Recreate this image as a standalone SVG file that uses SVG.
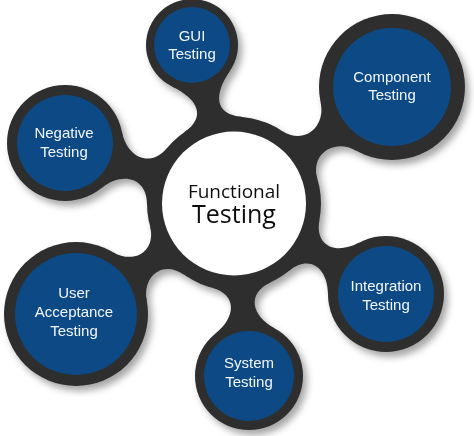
<svg xmlns="http://www.w3.org/2000/svg" width="474" height="436" viewBox="0 0 474 436">
  <defs>
    <filter id="sh" x="-10%" y="-10%" width="120%" height="120%">
      <feDropShadow dx="4" dy="5" stdDeviation="3.5" flood-color="#000" flood-opacity="0.35"/>
    </filter>
    <path id="neck46" d="M81.75,29.76 C91.35,3.36 110.79,8.71 129.10,30 L129.10,-30 C110.79,-8.71 91.35,-3.36 81.75,-29.76Z"/>
  </defs>
  <style>
    .ring { fill: #2f2e2d; }
    .navy { fill: #0c4a84; }
    .arm { fill: #2f2e2d; }
    .lbl { font-family: "Liberation Sans", Arial, sans-serif; font-size: 15px; fill: #f2f6fb; text-anchor: middle; }
    .ctr { font-family: "Open Sans", "Noto Sans", sans-serif; fill: #111; text-anchor: middle; }
  </style>
  <rect width="474" height="436" fill="#fff"/>
  <g filter="url(#sh)">
    <g id="connectors">
      <path class="arm" transform="translate(234,203.5) rotate(-104.84)" d="M81.75,29.76 C91.35,3.36 110.79,8.71 129.10,30 L129.10,-30 C110.79,-8.71 91.35,-3.36 81.75,-29.76Z"/>
      <path class="arm" transform="translate(234,203.5) rotate(-36.40)" d="M81.75,29.76 C90.56,5.55 119.18,6.52 129.76,30 L129.76,-30 C119.18,-6.52 90.56,-5.55 81.75,-29.76Z"/>
      <path class="arm" transform="translate(234,203.5) rotate(-160.30)" d="M81.75,29.76 C90.83,4.80 116.13,7.28 129.86,30 L129.86,-30 C116.13,-7.28 90.83,-4.80 81.75,-29.76Z"/>
      <path class="arm" transform="translate(234,203.5) rotate(145.04)" d="M81.75,29.76 C90.57,5.52 116.60,6.55 127.35,30 L127.35,-30 C116.60,-6.55 90.57,-5.52 81.75,-29.76Z"/>
      <path class="arm" transform="translate(234,203.5) rotate(85.03)" d="M81.75,29.76 C90.96,4.46 113.29,7.62 128.25,30 L128.25,-30 C113.29,-7.62 90.96,-4.46 81.75,-29.76Z"/>
      <path class="arm" transform="translate(234,203.5) rotate(30.77)" d="M81.75,29.76 C90.83,4.80 113.53,7.28 127.26,30 L127.26,-30 C113.53,-7.28 90.83,-4.80 81.75,-29.76Z"/>
    </g>
    <g id="functional-testing">
      <circle class="ring" cx="234" cy="203.5" r="87"/>
      <circle cx="234" cy="203.5" r="72" fill="#fff"/>
      <text class="ctr" x="234" y="198" font-size="19">Functional</text>
      <text class="ctr" x="234" y="223" font-size="25">Testing</text>
    </g>
    <g id="gui-testing">
      <circle class="ring" cx="192" cy="45" r="46"/>
      <circle class="navy" cx="192" cy="45" r="38"/>
      <text class="lbl" x="192" y="41">GUI</text>
      <text class="lbl" x="192" y="59">Testing</text>
    </g>
    <g id="component-testing">
      <circle class="ring" cx="392" cy="87" r="73"/>
      <circle class="navy" cx="392" cy="87" r="59"/>
      <text class="lbl" x="392" y="82">Component</text>
      <text class="lbl" x="392" y="100">Testing</text>
    </g>
    <g id="negative-testing">
      <circle class="ring" cx="65" cy="143" r="58"/>
      <circle class="navy" cx="65" cy="143" r="48"/>
      <text class="lbl" x="64" y="138">Negative</text>
      <text class="lbl" x="64" y="157">Testing</text>
    </g>
    <g id="user-acceptance-testing">
      <circle class="ring" cx="76" cy="314" r="72"/>
      <circle class="navy" cx="76" cy="314" r="61"/>
      <text class="lbl" x="74" y="298">User</text>
      <text class="lbl" x="74" y="317">Acceptance</text>
      <text class="lbl" x="74" y="336">Testing</text>
    </g>
    <g id="system-testing">
      <circle class="ring" cx="249" cy="376" r="54"/>
      <circle class="navy" cx="249" cy="376" r="45"/>
      <text class="lbl" x="249" y="368">System</text>
      <text class="lbl" x="249" y="387">Testing</text>
    </g>
    <g id="integration-testing">
      <circle class="ring" cx="386" cy="294" r="58"/>
      <circle class="navy" cx="386" cy="294" r="48"/>
      <text class="lbl" x="386" y="291">Integration</text>
      <text class="lbl" x="386" y="310">Testing</text>
    </g>
  </g>
</svg>
